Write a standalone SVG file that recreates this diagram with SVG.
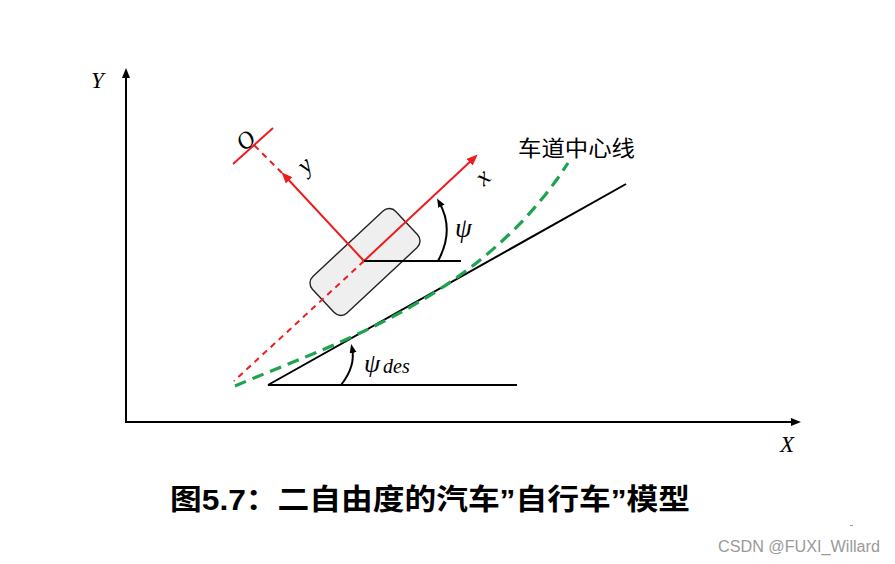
<svg xmlns="http://www.w3.org/2000/svg" width="895" height="564" viewBox="0 0 895 564">
  <style>
    .ax { stroke: #000; stroke-width: 2; fill: none; }
    .blk { stroke: #000; stroke-width: 2; fill: none; }
    .red { stroke: #ee1c1c; stroke-width: 2; fill: none; }
    .reddash { stroke: #ee1c1c; stroke-width: 2; fill: none; stroke-dasharray: 6 5; }
    .green { stroke: #1ea34e; stroke-width: 3.2; fill: none; stroke-dasharray: 12 7; }
    .math { font-family: "Liberation Serif", "DejaVu Serif", serif; font-style: italic; fill: #000; }
    .cjk { font-family: "Noto Sans CJK SC", "Noto Sans", sans-serif; fill: #000; }
    .lat { font-family: "Liberation Sans", Arial, sans-serif; }
  </style>
  <defs>
    <marker id="ahBlack" markerUnits="userSpaceOnUse" markerWidth="12" markerHeight="10" refX="6" refY="4" orient="auto">
      <path d="M0,0 L10,4 L0,8 z" fill="#000"/>
    </marker>
    <marker id="ahRed" markerUnits="userSpaceOnUse" markerWidth="13" markerHeight="10" refX="6" refY="4.5" orient="auto">
      <path d="M0,0 L11,4.5 L0,9 z" fill="#ee1c1c"/>
    </marker>
    <marker id="ahArc" markerUnits="userSpaceOnUse" markerWidth="11" markerHeight="9" refX="5" refY="3.5" orient="auto">
      <path d="M0,0 L9,3.5 L0,7 z" fill="#000"/>
    </marker>
  </defs>

  <rect width="895" height="564" fill="#fff"/>

  <!-- world axes -->
  <g id="axes">
    <line class="ax" x1="126" y1="423" x2="126" y2="72" marker-end="url(#ahBlack)"/>
    <line class="ax" x1="125" y1="422" x2="797" y2="422" marker-end="url(#ahBlack)"/>
    <text class="math" x="91" y="88" font-size="23">Y</text>
    <text class="math" x="780" y="452" font-size="23">X</text>
  </g>

  <!-- road reference line -->
  <g id="road">
    <line class="blk" x1="268" y1="385" x2="626" y2="184" stroke-width="1.8"/>
    <line class="blk" x1="268" y1="385" x2="517" y2="385"/>
  </g>

  <!-- lane center line -->
  <g id="lane-center">
    <path class="green" d="M235,386 C330,345 480,300 568,163"/>
    <text class="cjk" x="518" y="156" font-size="22" textLength="117" lengthAdjust="spacingAndGlyphs">车道中心线</text>
  </g>

  <!-- vehicle body -->
  <g id="car">
    <rect x="-57" y="-25" width="114" height="50" rx="9" transform="translate(365,262) rotate(-43)" fill="#efefef" stroke="#222" stroke-width="1.4"/>
  </g>

  <!-- connectors: body frame axes and angle arcs -->
  <g id="connectors">
    <line class="reddash" x1="364" y1="261" x2="234" y2="381"/>
    <line class="red" x1="364" y1="261" x2="474" y2="158" marker-end="url(#ahRed)"/>
    <line class="red" x1="364" y1="261" x2="285" y2="176" marker-end="url(#ahRed)"/>
    <line class="reddash" x1="282" y1="173" x2="254" y2="145"/>
    <line class="red" x1="233" y1="164" x2="273" y2="128"/>
    <line class="blk" x1="364" y1="261" x2="461" y2="261"/>
    <path class="blk" d="M438,261 Q455,230 439,202" marker-end="url(#ahArc)"/>
    <path class="blk" d="M341,385 Q356,366 352,348" marker-end="url(#ahArc)"/>
  </g>

  <!-- labels -->
  <g id="labels">
    <text class="math" font-size="24" text-anchor="middle" transform="translate(251,146) rotate(-43)">O</text>
    <text class="math" font-size="25" text-anchor="middle" transform="translate(310,171) rotate(-43)">y</text>
    <text class="math" font-size="25" text-anchor="middle" transform="translate(488,183) rotate(-43)">x</text>
    <text class="math" x="455" y="237" font-size="27">ψ</text>
    <text class="math" x="364" y="372" font-size="26">ψ</text>
    <text class="math" x="383" y="373" font-size="20">des</text>
  </g>

  <!-- caption -->
  <g id="caption">
    <text class="cjk" x="170" y="510" font-size="29" font-weight="bold" textLength="520" lengthAdjust="spacingAndGlyphs">图<tspan class="lat">5.7</tspan>：二自由度的汽车<tspan class="lat">”</tspan>自行车<tspan class="lat">”</tspan>模型</text>
  </g>

  <g id="watermark">
    <line x1="850" y1="525.5" x2="853" y2="525.5" stroke="#999" stroke-width="1"/>
    <text x="718" y="552" font-family="Liberation Sans, Arial, sans-serif" font-size="16" fill="#9a9a9a" textLength="162" lengthAdjust="spacingAndGlyphs">CSDN @FUXI_Willard</text>
  </g>
</svg>
